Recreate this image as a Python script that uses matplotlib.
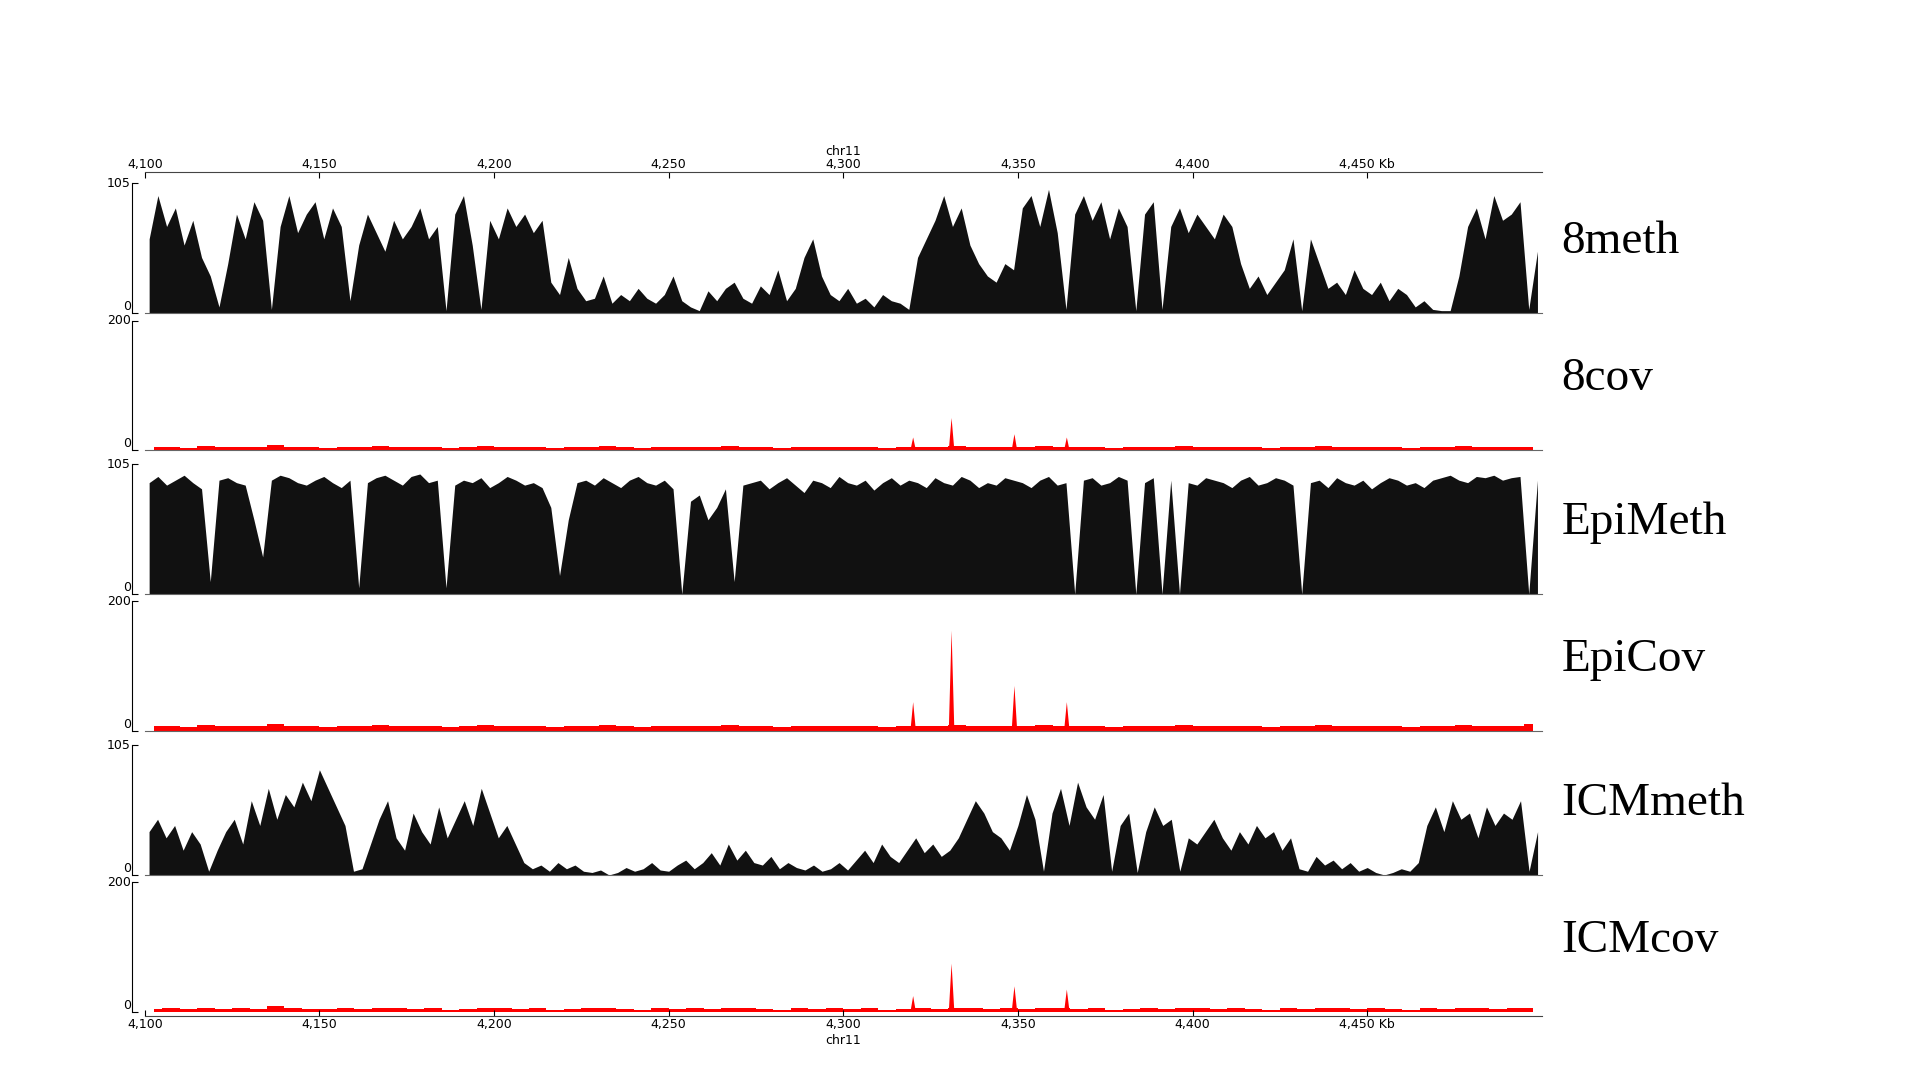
import matplotlib
matplotlib.use("Agg")
import matplotlib.pyplot as plt
import numpy as np

# genome coordinates in Kb, 2.5 Kb bins for methylation tracks
start_kb, end_kb = 4100, 4500
tick_kb = [4100, 4150, 4200, 4250, 4300, 4350, 4400, 4450]
tick_labels = ["4,100", "4,150", "4,200", "4,250", "4,300", "4,350", "4,400", "4,450 Kb"]

meth8 = [60, 95, 70, 85, 55, 75, 45, 30, 5, 40, 80, 60, 90, 75, 3, 70, 95, 65, 80, 90,
         60, 85, 70, 10, 55, 80, 65, 50, 75, 60, 70, 85, 60, 70, 2, 80, 95, 55, 3, 75,
         60, 85, 70, 80, 65, 75, 25, 15, 45, 20, 10, 12, 30, 8, 15, 10, 20, 12, 8, 15,
         30, 10, 5, 2, 18, 10, 20, 25, 12, 8, 22, 15, 35, 10, 20, 45, 60, 30, 15, 10,
         20, 8, 12, 5, 15, 10, 8, 3, 45, 60, 75, 95, 70, 85, 55, 40, 30, 25, 40, 35,
         85, 95, 70, 100, 65, 3, 80, 95, 75, 90, 60, 85, 70, 2, 80, 90, 3, 70, 85, 65,
         80, 70, 60, 80, 70, 40, 20, 30, 15, 25, 35, 60, 2, 60, 40, 20, 25, 15, 35, 20,
         15, 25, 10, 20, 15, 5, 10, 3, 2, 2, 30, 70, 85, 60, 95, 75, 80, 90, 3, 50]

meth_epi = [90, 95, 88, 92, 96, 90, 85, 10, 92, 94, 90, 88, 60, 30, 92, 96, 94, 90, 88, 92,
            95, 90, 86, 92, 5, 90, 94, 96, 92, 88, 95, 97, 90, 92, 5, 88, 92, 90, 94, 86,
            90, 95, 92, 88, 90, 86, 70, 15, 60, 90, 92, 88, 94, 90, 86, 92, 95, 90, 88, 92,
            85, 0, 75, 80, 60, 70, 85, 10, 88, 90, 92, 85, 90, 94, 88, 82, 92, 90, 86, 95,
            90, 88, 92, 84, 90, 94, 88, 92, 90, 86, 94, 90, 88, 95, 92, 86, 90, 88, 94, 92,
            90, 86, 92, 95, 88, 90, 0, 92, 94, 88, 90, 95, 92, 0, 90, 94, 0, 92, 0, 90,
            88, 94, 92, 90, 86, 92, 95, 88, 90, 94, 92, 88, 0, 90, 92, 86, 94, 90, 88, 92,
            85, 90, 94, 92, 88, 90, 86, 92, 94, 96, 92, 90, 95, 94, 96, 92, 94, 95, 0, 92]

meth_icm = [35, 45, 30, 40, 20, 35, 25, 3, 20, 35, 45, 25, 60, 40, 70, 45, 65, 55, 75, 60,
            85, 70, 55, 40, 3, 5, 25, 45, 60, 30, 20, 50, 35, 25, 55, 30, 45, 60, 40, 70,
            50, 30, 40, 25, 10, 5, 8, 3, 10, 5, 8, 3, 2, 4, 0, 2, 6, 3, 5, 10, 4, 3,
            8, 12, 5, 10, 18, 8, 25, 12, 20, 10, 8, 15, 5, 10, 6, 4, 8, 3, 5, 10, 4, 12,
            20, 10, 25, 15, 10, 20, 30, 18, 25, 15, 20, 30, 45, 60, 50, 35, 30, 20, 40, 65,
            45, 3, 50, 70, 40, 75, 55, 45, 65, 3, 40, 50, 2, 35, 55, 40, 45, 3, 30, 25,
            35, 45, 30, 20, 35, 25, 40, 30, 35, 20, 30, 5, 3, 15, 8, 12, 5, 10, 3, 6,
            2, 0, 2, 5, 3, 10, 40, 55, 35, 60, 45, 50, 30, 55, 40, 50, 45, 60, 3, 35]

# coverage baseline, 5 Kb bins
cov8_base = [5, 6, 4, 7, 5, 6, 5, 8, 6, 5, 4, 6, 5, 7, 6, 5, 6, 4, 5, 7,
             6, 5, 6, 4, 5, 6, 7, 5, 4, 6, 5, 6, 5, 7, 6, 5, 4, 6, 5, 6,
             5, 6, 4, 5, 6, 5, 7, 6, 5, 6, 5, 7, 6, 5, 6, 4, 5, 6, 5, 7,
             6, 5, 6, 5, 4, 6, 5, 7, 6, 5, 6, 5, 4, 6, 5, 7, 6, 5, 6, 5]
covepi_base = [8, 9, 7, 10, 8, 9, 8, 12, 9, 8, 7, 9, 8, 10, 9, 8, 9, 7, 8, 10,
               9, 8, 9, 7, 8, 9, 10, 8, 7, 9, 8, 9, 8, 10, 9, 8, 7, 9, 8, 9,
               8, 9, 7, 8, 9, 8, 10, 9, 8, 9, 8, 10, 9, 8, 9, 7, 8, 9, 8, 10,
               9, 8, 9, 8, 7, 9, 8, 10, 9, 8, 9, 8, 7, 9, 8, 10, 9, 8, 9, 12]
covicm_base = [5, 6, 5, 7, 5, 6, 5, 9, 6, 5, 5, 6, 5, 7, 6, 5, 6, 4, 5, 7,
               6, 5, 6, 4, 5, 6, 7, 5, 4, 6, 5, 6, 5, 7, 6, 5, 4, 6, 5, 6,
               5, 6, 4, 5, 6, 5, 7, 6, 5, 6, 5, 7, 6, 5, 6, 4, 5, 6, 5, 7,
               6, 5, 6, 5, 4, 6, 5, 7, 6, 5, 6, 5, 4, 6, 5, 7, 6, 5, 6, 6]
peak_kb = [4320, 4331, 4349, 4364]
cov8_peaks = [20, 50, 25, 20]
covepi_peaks = [45, 155, 70, 45]
covicm_peaks = [25, 75, 40, 35]

tracks = [
    ("8meth", meth8, None, None, 105, "#111111"),
    ("8cov", cov8_base, peak_kb, cov8_peaks, 200, "#ff0000"),
    ("EpiMeth", meth_epi, None, None, 105, "#111111"),
    ("EpiCov", covepi_base, peak_kb, covepi_peaks, 200, "#ff0000"),
    ("ICMmeth", meth_icm, None, None, 105, "#111111"),
    ("ICMcov", covicm_base, peak_kb, covicm_peaks, 200, "#ff0000"),
]

H = 863.0
W = 1550.0
tops = [148, 259, 375, 486, 602, 713]
th = 105

fig = plt.figure(figsize=(19.18, 10.68), dpi=100)
for k, (name, vals, pk, ph, ymax, col) in enumerate(tracks):
    ax = fig.add_axes([117 / W, 1 - (tops[k] + th) / H, 1129 / W, th / H])
    vals = np.array(vals, dtype=float)
    step = (end_kb - start_kb) / len(vals)
    x = start_kb + step * (np.arange(len(vals)) + 0.5)
    if pk is None:
        ax.fill_between(x, 0, vals, color=col, lw=0)
    else:
        ax.fill_between(x, 0, vals, step="mid", color=col, lw=0)
        for p, h in zip(pk, ph):
            ax.fill([p - 0.8, p, p + 0.8], [0, h, 0], color=col, lw=0)
    ax.set_xlim(start_kb, end_kb)
    ax.set_ylim(0, ymax)
    for s in ["top", "right"]:
        ax.spines[s].set_visible(False)
    ax.spines["bottom"].set_color("#666666")
    ax.spines["left"].set_position(("outward", 9))
    ax.set_yticks([0, ymax])
    ax.set_yticklabels(["0", str(ymax)])
    ax.tick_params(axis="y", direction="in", length=4, labelsize=9, pad=1)
    ylabs = ax.get_yticklabels()
    ylabs[0].set_va("bottom")
    ylabs[1].set_va("center")
    ax.tick_params(axis="x", bottom=False, labelbottom=False)
    ax.text(1.014, 0.55, name, transform=ax.transAxes, fontsize=34,
            family="Liberation Serif", va="center", ha="left")
    if k == 0:
        ax.spines["top"].set_visible(True)
        ax.spines["top"].set_position(("outward", 8))
        ax.spines["top"].set_color("#444444")
        ax.xaxis.set_ticks_position("top")
        ax.tick_params(axis="x", top=True, labeltop=True, direction="in",
                       length=4, labelsize=9, pad=1)
        ax.set_xticks(tick_kb)
        ax.set_xticklabels(tick_labels)
        ax.set_xlabel("chr11", fontsize=9, labelpad=2)
        ax.xaxis.set_label_position("top")
    if k == len(tracks) - 1:
        ax.spines["bottom"].set_position(("outward", 3))
        ax.spines["bottom"].set_color("#444444")
        ax.tick_params(axis="x", bottom=True, labelbottom=True, direction="in",
                       length=4, labelsize=9, pad=1)
        ax.set_xticks(tick_kb)
        ax.set_xticklabels(tick_labels)
        ax.set_xlabel("chr11", fontsize=9, labelpad=2)

fig.savefig("out.png", dpi=100)
